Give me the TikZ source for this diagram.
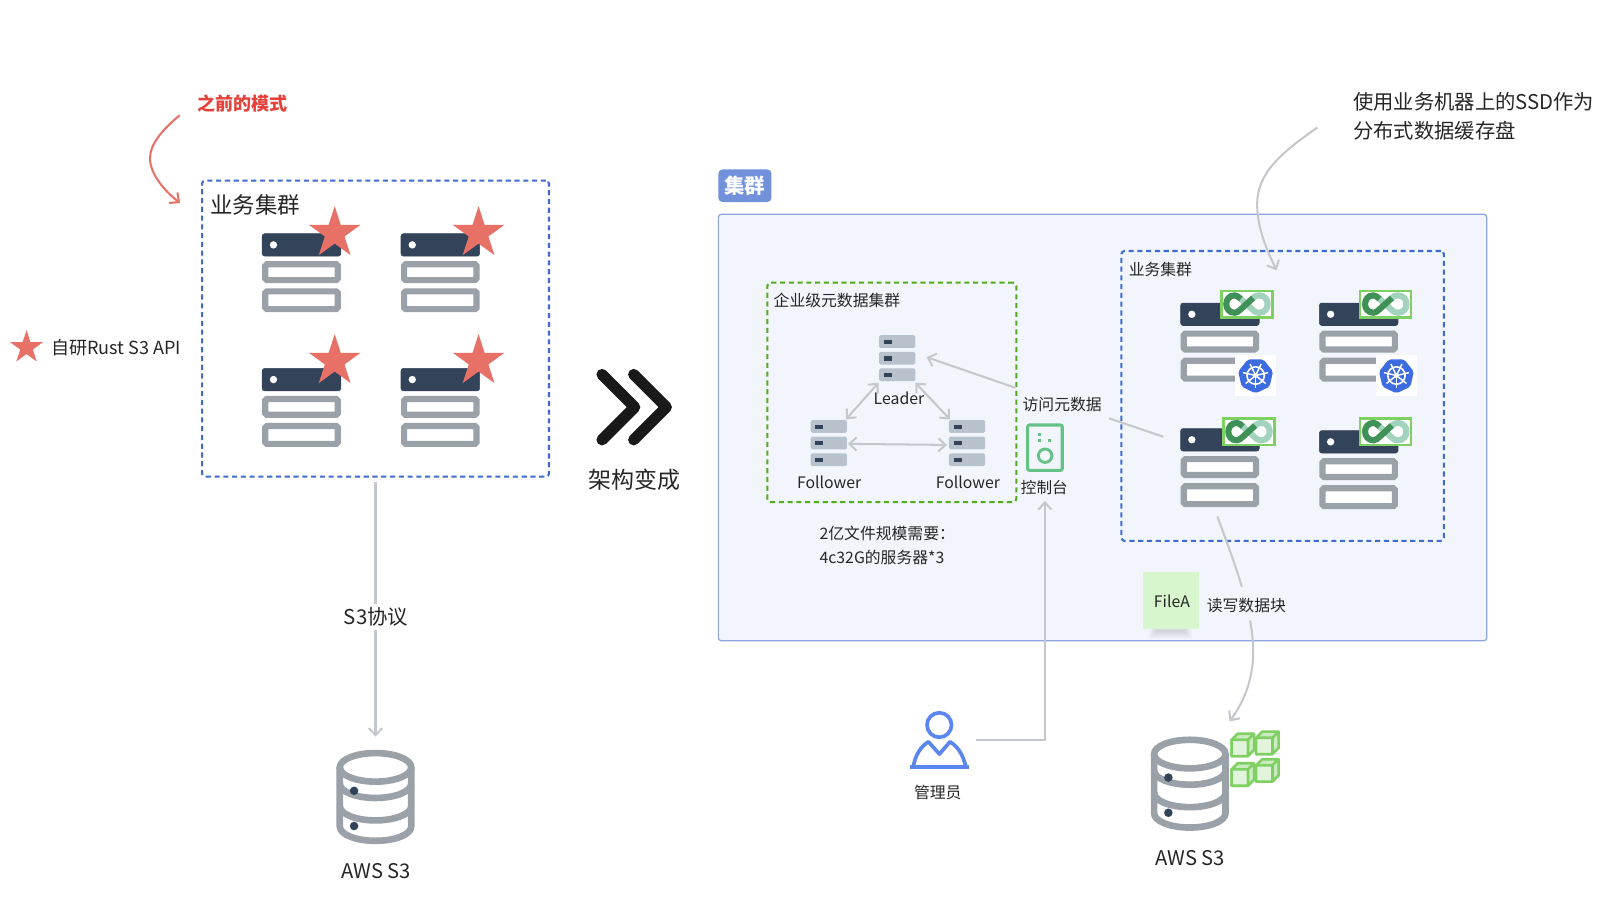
\documentclass[tikz,border=0pt]{standalone}
\usepackage{fontspec}
\setmainfont{Noto Sans CJK SC}
\usetikzlibrary{shapes.geometric,arrows.meta,calc}
\definecolor{srvgray}{HTML}{9AA1A8}
\definecolor{srvdark}{HTML}{33445A}
\definecolor{linegray}{HTML}{C4C7CB}
\definecolor{dashblue}{HTML}{3F6BD0}
\definecolor{dashgreen}{HTML}{52AD1C}
\definecolor{starred}{HTML}{E87167}
\definecolor{beforered}{HTML}{E5403A}
\definecolor{panelfill}{HTML}{F2F5FC}
\definecolor{paneldraw}{HTML}{8EA3E0}
\definecolor{tagblue}{HTML}{7192DA}
\definecolor{smallbar}{HTML}{B8C2CC}
\definecolor{consolegreen}{HTML}{66C187}
\definecolor{cubegreen}{HTML}{7ED063}
\definecolor{cubefill}{HTML}{E2F4DC}
\definecolor{cubeside}{HTML}{CDEBC3}
\definecolor{notegreen}{HTML}{D8F6CD}
\definecolor{personblue}{HTML}{5B86F0}
\definecolor{infdark}{HTML}{3F9157}
\definecolor{inflight}{HTML}{A3D3BC}
\definecolor{k8sblue}{HTML}{3D6BE0}
\tikzset{
  x=1pt,y=-1pt,
  txt/.style={inner sep=0pt,text=black!85,font=\fontsize{#1}{#1}\selectfont},
  conn/.style={draw=linegray,line width=2pt},
  arr/.style={conn,-{Straight Barb[length=7pt,width=13pt,line width=2pt]}},
  darr/.style={conn,{Straight Barb[length=7pt,width=13pt,line width=2pt]}-{Straight Barb[length=7pt,width=13pt,line width=2pt]}},
  dashbox/.style={rectangle,rounded corners=3pt,line width=2pt,dash pattern=on 5pt off 3.6pt,inner sep=0pt,outer sep=0pt,anchor=north west},
  redstar/.style={star,star points=5,star point ratio=2.618,fill=starred,inner sep=0pt,minimum size=#1},
  % server with three bars, origin top left
  server/.pic={
    \draw[fill=srvdark,srvdark,rounded corners=2.5pt,line width=.6pt] (0,0) rectangle (77,22);
    \fill[white] (11,11) circle (3.6);
    \draw[srvgray,fill=white,line width=6pt,rounded corners=1.5pt] (3,30) rectangle (74,45.5);
    \draw[srvgray,fill=white,line width=6pt,rounded corners=1.5pt] (3,56.5) rectangle (74,74);
  },
  % small server for the metadata cluster
  smallsrv/.pic={
    \foreach \y in {0,16.3,32.6} {
      \fill[smallbar,rounded corners=1.5pt] (0,\y) rectangle (35.5,\y+12.5);
      \fill[srvdark] (4.5,\y+4.5) rectangle (12.5,\y+8.5);
    }
  },
  % database, origin at top centre
  dbicon/.pic={
    \draw[srvgray,line width=6.5pt] (0,17) ellipse [x radius=35,y radius=14];
    \draw[srvgray,line width=6.5pt,line join=round] (-35,17) -- (-35,75)
      arc[start angle=180,end angle=360,x radius=35,y radius=-14] -- (35,17);
    \draw[srvgray,line width=6.5pt] (-35,33) arc[start angle=180,end angle=360,x radius=35,y radius=-14];
    \draw[srvgray,line width=6.5pt] (-35,55) arc[start angle=180,end angle=360,x radius=35,y radius=-14];
    \fill[srvdark] (-21,40) circle (4.2);
    \fill[srvdark] (-21,74.5) circle (4.2);
  },
  % green object block, origin top left
  cubeicon/.pic={
    \draw[cubegreen,fill=cubeside,line width=2.6pt,line join=round] (0,6) -- (6,0) -- (22,0) -- (22,16) -- (16,22) -- (0,22) -- cycle;
    \fill[cubefill] (0,6) rectangle (16,22);
    \draw[cubegreen,line width=2.6pt,line join=round] (0,6) -- (0,22) -- (16,22) -- (16,6) -- cycle (16,6) -- (22,0);
  },
  % infinity badge, origin top left
  infbadge/.pic={
    \draw[cubegreen,fill=white,line width=2.4pt] (0,0) rectangle (50,26);
    \draw[inflight,line width=6pt] (19,8) .. controls (23,12) and (27,15) .. (30,18) .. controls (33,21) and (35,21.5) .. (37,21.5) .. controls (48,21.5) and (48,4.5) .. (37,4.5) .. controls (35,4.5) and (33,5) .. (30,8);
    \draw[infdark,line width=6pt] (31,7) -- (19,18) .. controls (17,20) and (15,21.5) .. (13,21.5) .. controls (2,21.5) and (2,4.5) .. (13,4.5) .. controls (15,4.5) and (17,6) .. (19,8);
  },
  % kubernetes badge, origin at centre
  k8sbadge/.pic={
    \fill[white] (-20,-20) rectangle (20,20);
    \fill[k8sblue,rounded corners=2pt] (90:17.5) -- (38.6:17.5) -- (-12.9:17.5) -- (-64.3:17.5) -- (-115.7:17.5) -- (-167.1:17.5) -- (141.4:17.5) -- cycle;
    \draw[white,line width=1.6pt] (0,0) circle (8.5);
    \foreach \a in {90,38.6,-12.9,-64.3,-115.7,-167.1,141.4}
      \draw[white,line width=1.4pt] (\a:2) -- (\a:12.5);
    \fill[white] (0,0) circle (2.4);
  }
}
\begin{document}
\begin{tikzpicture}
\useasboundingbox (0,0) rectangle (1568,882);
\fill[white] (0,0) rectangle (1568,882);

% right panel
\node[rectangle,draw=paneldraw,fill=panelfill,rounded corners=3pt,line width=1.2pt,anchor=north west,minimum width=753pt,minimum height=418pt,inner sep=0pt,outer sep=0pt] (panel) at (704,210) {};
\node[rectangle,fill=tagblue,rounded corners=4pt,anchor=north west,minimum width=52pt,minimum height=32pt,inner sep=0pt,outer sep=0pt,text=white,font=\fontsize{20}{20}\selectfont\bfseries] (tag) at (704,166) {\raisebox{-2pt}{集群}};

% left side
\node[txt=17.6,anchor=west,text=beforered,font=\fontsize{17.7}{17.7}\selectfont\bfseries] (before) at (193,101) {之前的模式};
\node[dashbox,draw=dashblue,minimum width=340pt,minimum height=290pt] (bizL) at (198,177) {};
\node[txt=22,anchor=west] (bizLt) at (206,201) {业务集群};
\pic at (257,229) {server};
\pic at (393,229) {server};
\pic at (257,361) {server};
\pic at (393,361) {server};
\node[redstar=53pt] (s1) at (328,228.6) {};
\node[redstar=53pt] (s2) at (469,228.6) {};
\node[redstar=53pt] (s3) at (328,354) {};
\node[redstar=53pt] (s4) at (469,354) {};
\node[redstar=34pt] (s0) at (26,340.5) {};
\node[txt=17.7,anchor=west] (legend) at (50,341) {自研Rust S3 API};
\coordinate (dbLtop) at (368,735);
\pic at (dbLtop) {dbicon};
\node[txt=19.8] (awsL) at (368.5,854) {AWS S3};
\node[txt=20,fill=white,inner sep=3pt] (proto) at (368.5,604.5) {S3协议};
\coordinate (pa) at (368,472);
\draw[conn] (pa) -- (pa |- proto.north);
\coordinate (pb) at (368,722);
\draw[arr] (pb |- proto.south) -- (pb);
\coordinate (ca) at (176,113);
\coordinate (cb) at (176.5,199);
\draw[draw=starred,line width=2pt,-{Straight Barb[length=7pt,width=13pt,line width=2pt]}] (ca) .. controls (158,128) and (147,142) .. (147,155) .. controls (147,170) and (160,186) .. (cb);

% change of architecture
\draw[line width=11pt,line cap=round,line join=round,black!90] (590,367) -- (622,399) -- (590,431);
\draw[line width=11pt,line cap=round,line join=round,black!90] (621,367) -- (653,399) -- (621,431);
\node[txt=22.5] (change) at (621.5,470.5) {架构变成};

% metadata cluster
\node[dashbox,draw=dashgreen,minimum width=244pt,minimum height=215pt] (meta) at (752,277) {};
\node[txt=15.5,anchor=west] (metat) at (758,294.5) {企业级元数据集群};
\pic at (861.5,328.5) {smallsrv};
\pic at (794.5,411.6) {smallsrv};
\pic at (930,411.6) {smallsrv};
\node[txt=15.5] (leader) at (881,390) {Leader};
\node[txt=15.5] (f1) at (812.5,473) {Follower};
\node[txt=15.5] (f2) at (948.5,473) {Follower};
\coordinate (la) at (861,375);
\coordinate (lb) at (829,411);
\coordinate (ra) at (897,375);
\coordinate (rb) at (931,411);
\coordinate (ma) at (831,435);
\coordinate (mb) at (928,436);
\draw[darr] (la) -- (lb);
\draw[darr] (ra) -- (rb);
\draw[darr] (ma) -- (mb);
\node[txt=15.5,anchor=west] (size1) at (803,523) {2亿文件规模需要：};
\node[txt=15.5,anchor=west] (size2) at (803,546) {4c32G的服务器*3};

% console
\node[txt=15.5,anchor=west] (access) at (1002,396.5) {访问元数据};
\draw[consolegreen,line width=3pt,rounded corners=2pt] (1007,416.5) rectangle (1041,461);
\draw[consolegreen,line width=2.8pt] (1024.2,446.6) circle (6.6);
\fill[consolegreen] (1017.3,424) rectangle ++(3,3);
\fill[consolegreen] (1017.3,430.6) rectangle ++(3,3);
\fill[consolegreen] (1027,430.6) rectangle ++(3,3);
\node[txt=15.3] (console) at (1023.5,478) {控制台};

% business cluster
\node[dashbox,draw=dashblue,minimum width=316pt,minimum height=284pt] (bizR) at (1099,246) {};
\node[txt=15.5,anchor=west] (bizRt) at (1106,264) {业务集群};
\pic at (1157,297) {server};
\pic at (1293,297) {server};
\pic at (1157,420) {server};
\pic at (1293,422) {server};
\pic at (1197,285) {infbadge};
\pic at (1333,285) {infbadge};
\pic at (1199,410) {infbadge};
\pic at (1333,410) {infbadge};
\pic at (1230.5,368) {k8sbadge};
\pic at (1368.5,368) {k8sbadge};

% access lines
\coordinate (aa) at (1140,428);
\coordinate (ab) at (1087,410);
\coordinate (ac) at (995,380);
\coordinate (ad) at (908,350);
\draw[conn] (aa) -- (ab);
\draw[arr] (ac) -- (ad);

% file note and S3
\foreach \d in {0,1,2,3,4,5,6,7}
  \fill[black,opacity=.014] (1133-\d,612) rectangle (1161+\d,619+\d);
\node[rectangle,fill=notegreen,minimum width=55pt,minimum height=55pt,inner sep=0pt,outer sep=0pt,anchor=north west] (note) at (1120,561) {};
\node[txt=15.5] (filea) at (1148.5,589.5) {FileA};
\node[txt=15.5,anchor=west] (rw) at (1182.5,593) {读写数据块};
\coordinate (ra1) at (1193,506);
\coordinate (ra2) at (1217,575);
\coordinate (ra3) at (1225,608);
\coordinate (ra4) at (1205,707);
\draw[conn] (ra1) .. controls (1203,533) and (1211,555) .. (ra2);
\draw[arr] (ra3) .. controls (1231,640) and (1230,672) .. (ra4);
\coordinate (dbRtop) at (1166,722);
\pic at (dbRtop) {dbicon};
\pic at (1207,719) {cubeicon};
\pic at (1231,717) {cubeicon};
\pic at (1207,748) {cubeicon};
\pic at (1231,744) {cubeicon};
\node[txt=19.8] (awsR) at (1166.5,841) {AWS S3};

% admin
\draw[personblue,line width=3.6pt] (920.5,710.5) circle (12);
\draw[personblue,line width=3.6pt,line join=round] (895,751.4) .. controls (897,740) and (902,732) .. (909.8,726.9) -- (920.6,739) -- (931,726.9) .. controls (939,732) and (944,740) .. (946.4,751.4);
\draw[personblue,line width=3.2pt] (892,751.6) -- (949.5,751.6);
\node[txt=15.5] (admin) at (919,777) {管理员};
\coordinate (ada) at (956,725);
\coordinate (adb) at (1024,491);
\draw[arr] (ada) -| (adb);

% note top right
\node[txt=19.9,anchor=west] (ssd1) at (1326,100) {使用业务机器上的SSD作为};
\node[txt=19.9,anchor=west] (ssd2) at (1326,128.5) {分布式数据缓存盘};
\coordinate (sa) at (1291,125);
\coordinate (sb) at (1251,265);
\draw[arr] (sa) .. controls (1255,150) and (1232,170) .. (1232,200) .. controls (1232,225) and (1243,248) .. (sb);
\end{tikzpicture}
\end{document}
